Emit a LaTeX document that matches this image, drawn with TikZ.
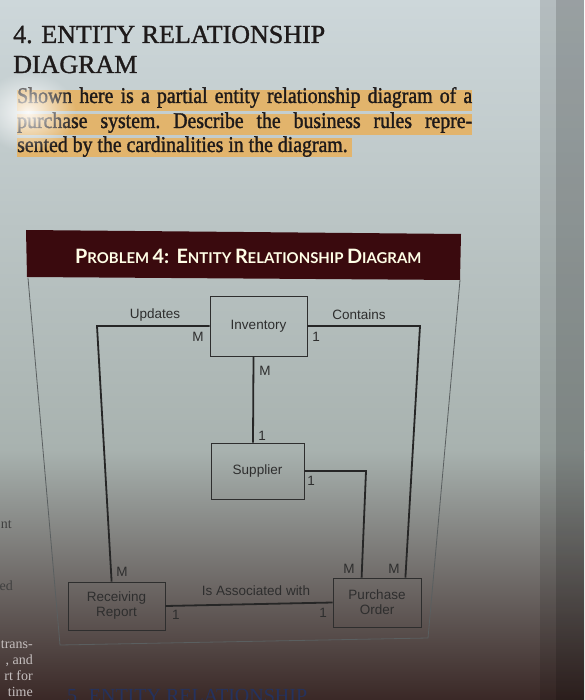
\documentclass[tikz,border=0pt]{standalone}
\usepackage{fontspec}
\setmainfont{Liberation Serif}
\newfontfamily\headfont[FakeBold=1.2]{Liberation Serif}
\newfontfamily\parafont[FakeStretch=0.88,FakeBold=1.3]{Liberation Serif}
\newfontfamily\diafont{Liberation Sans}
\newfontfamily\banfont{Lato}
\usetikzlibrary{fadings}
\tikzfading[name=glowfade, inner color=transparent!0, outer color=transparent!100]
\definecolor{bgtop}{HTML}{CDD7DA}
\definecolor{bgmid}{HTML}{A8B2AF}
\definecolor{bgbot}{HTML}{3A2826}
\definecolor{hilite}{HTML}{E2B46C}
\definecolor{bannerc}{HTML}{3A0A0E}
\definecolor{ink}{HTML}{1E1A1A}
\definecolor{diaink}{HTML}{2E2E2E}
\definecolor{framec}{HTML}{5A5F60}
\definecolor{navyc}{HTML}{24325E}
\newcommand\bsc[2]{{\fontsize{19.8}{19.8}\selectfont #1}{\fontsize{14.9}{14.9}\selectfont #2}}
\begin{document}
\begin{tikzpicture}[x=1pt,y=-1pt,
  heading/.style={anchor=base west, inner sep=0, text=ink, font=\headfont\fontsize{26}{26}\selectfont},
  paraline/.style={anchor=base west, inner sep=0, text=ink, font=\parafont\fontsize{22.5}{22.5}\selectfont},
  entity/.style={draw=diaink, line width=0.8pt, inner sep=0, align=center, text=diaink,
                 font=\diafont\fontsize{13.5}{15}\selectfont},
  link/.style={line width=1.8pt, draw=black!85},
  lbl/.style={inner sep=0, text=diaink, font=\diafont\fontsize{13.5}{15}\selectfont},
  margintext/.style={anchor=base east, inner sep=0, font=\fontsize{14}{14}\selectfont}]
\useasboundingbox (0,0) rectangle (584,700);
\clip (0,0) rectangle (584,700);
% photo background
\shade[top color=bgtop, bottom color=bgmid] (0,0) rectangle (584,450);
\shade[top color=bgmid, bottom color=bgbot] (0,450) rectangle (584,700);
\fill[black, opacity=0.12] (540,0) rectangle (584,700);
\fill[black, opacity=0.15] (556,0) rectangle (584,700);
% heading
\node[heading] (h1) at (13,43) {4. ENTITY RELATIONSHIP};
\node[heading] (h2) at (13,73) {DIAGRAM};
% highlighted paragraph
\fill[hilite] (17,90) rectangle (472,111);
\fill[hilite] (17,114) rectangle (472,135);
\fill[hilite] (17,138) rectangle (352,157);
\node[paraline] (p1) at (17,103) {\makebox[455pt][s]{Shown here is a partial entity relationship diagram of a}};
\node[paraline] (p2) at (17,128) {\frenchspacing\makebox[455pt][s]{purchase system. Describe the business rules repre-}};
\node[paraline] (p3) at (17,152) {sented by the cardinalities in the diagram.};
% glare
\fill[white, opacity=0.9, path fading=glowfade] (28,112) ellipse (48pt and 40pt);
% banner
\fill[bannerc] (26,230) -- (461,234) -- (460,280) -- (27,277) -- cycle;
\node[anchor=base west, inner sep=0, text=white!90!yellow, font=\banfont\bfseries\fontsize{14.9}{14.9}\selectfont] (ban) at (75,263)
  {\bsc{P}{ROBLEM} \bsc{4:}{}\ \ \bsc{E}{NTITY} \bsc{R}{ELATIONSHIP} \bsc{D}{IAGRAM}};
% panel frame
\draw[framec, line width=0.8pt] (28,278) -- (60,645) -- (428,638) -- (460,280);
% entities
\node[entity, minimum width=97pt, minimum height=60pt] (inv) at (258.5,326) {Inventory};
\node[entity, minimum width=93pt, minimum height=56pt] (sup) at (257.5,471) {\raisebox{-3pt}{Supplier}};
\node[entity, minimum width=97pt, minimum height=48pt] (rr) at (116.5,606) {Receiving\\Report};
\node[entity, minimum width=88pt, minimum height=49pt] (po) at (377,602.5) {Purchase\\Order};
% relationship corners
\coordinate (updc) at (97,326);
\coordinate (conc) at (420,326);
\coordinate (supc) at (366,471);
% connectors
\draw[link] (inv.west) -- (updc) -- ([xshift=44pt]rr.north west);
\draw[link] (inv.east) -- (conc) -- ([xshift=-16pt]po.north east);
\draw[link] ([xshift=-5pt]inv.south) -- ([xshift=-4.5pt]sup.north);
\draw[link] (sup.east) -- (supc) -- ([xshift=29pt]po.north west);
\draw[link] (rr.east) -- (po.west);
% labels
\node[lbl] (lupd) at (155,315) {Updates};
\node[lbl] (lcon) at (359,315) {Contains};
\node[lbl] (lass) at (256,591) {Is Associated with};
\node[lbl] at (198,337) {M};
\node[lbl] at (316,337) {1};
\node[lbl] at (265,371) {M};
\node[lbl] at (262,436) {1};
\node[lbl] at (311,481) {1};
\node[lbl] at (122,572) {M};
\node[lbl] at (349,569) {M};
\node[lbl] at (394,569) {M};
\node[lbl] at (176,615) {1};
\node[lbl] at (323,613) {1};
% neighbouring page fragments
\node[margintext, text=black!75] at (12,528) {nt};
\node[margintext, text=black!75] at (13,590) {ed};
\node[margintext, text=white!70!bgbot] at (33,648) {trans-};
\node[margintext, text=white!70!bgbot] at (33,664) {, and};
\node[margintext, text=white!70!bgbot] at (33,680) {rt for};
\node[margintext, text=white!70!bgbot] at (33,696) {time};
\node[anchor=base west, inner sep=0, text=navyc, font=\fontsize{20}{20}\selectfont] (h5) at (67,702) {5. ENTITY RELATIONSHIP};
\end{tikzpicture}
\end{document}
